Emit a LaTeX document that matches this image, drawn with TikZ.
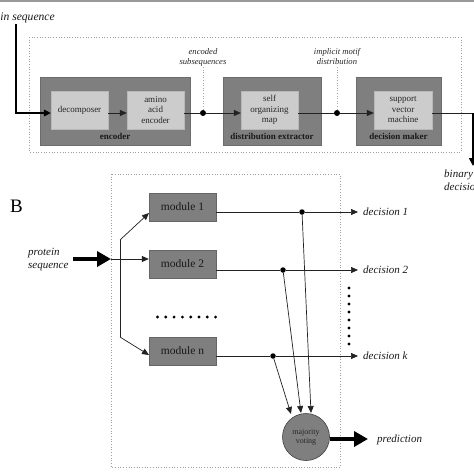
\documentclass[tikz,border=0pt]{standalone}
\usepackage{fontspec}
\setmainfont{Liberation Serif}
\usetikzlibrary{arrows.meta,calc}
\definecolor{dk}{HTML}{7F7F7F}
\definecolor{lt}{HTML}{CCCCCC}
\definecolor{ln}{HTML}{222222}
\begin{document}
\begin{tikzpicture}[x=1pt,y=-1pt,
  dkbox/.style={fill=dk, draw=dk!85!black, line width=0.3pt, inner sep=0pt},
  ltbox/.style={fill=lt, draw=lt!90!black, line width=0.3pt, inner sep=0pt, align=center, font=\fontsize{9}{10.5}\selectfont, text=black!85},
  dklab/.style={font=\fontsize{9}{10}\selectfont\bfseries, anchor=base, inner sep=0pt, text=black!90},
  smlab/.style={font=\fontsize{8.6}{10}\selectfont\itshape, align=center, inner sep=0pt, text=black!85},
  itlab/.style={font=\fontsize{11}{12.5}\selectfont\itshape, inner sep=0pt, text=black!90},
  modbox/.style={fill=dk, draw=dk!80!black, line width=0.4pt, minimum width=67pt, minimum height=28pt, inner sep=0pt, font=\fontsize{11.5}{12}\selectfont, text=black!90},
  conn/.style={draw=ln, line width=0.7pt},
  arr/.style={conn, -{Triangle[length=7pt,width=6pt]}},
  bigarr/.style={draw=black, line width=3.6pt, -{Triangle[length=14pt,width=15pt]}},
  frame/.style={draw=gray!75, dotted, line width=0.7pt},
  jdot/.style={circle, fill=black, inner sep=0pt, minimum size=6pt},
  smdot/.style={circle, fill=black, inner sep=0pt, minimum size=3.2pt}
]
\useasboundingbox (0,0) rectangle (474,474);
\clip (0,0) rectangle (474,474);
\fill[white] (0,0) rectangle (474,474);
\draw[gray!80, line width=2.2pt] (0,1) -- (474,1);

% ---------------- Panel A ----------------
\draw[frame] (29,37) rectangle (461,152);
\node[dkbox, minimum width=150pt, minimum height=68pt] (enc) at (115,111) {};
\node[dkbox, minimum width=98pt, minimum height=68pt] (dex) at (272,111) {};
\node[dkbox, minimum width=85pt, minimum height=68pt] (dm) at (398.5,111) {};
\node[dklab] (encl) at (115,139) {encoder};
\node[dklab] (dexl) at (272,139) {distribution extractor};
\node[dklab] (dml) at (398.5,139) {decision maker};
\node[ltbox, minimum width=57pt, minimum height=38pt] (dec) at (79.5,110) {decomposer};
\node[ltbox, minimum width=57pt, minimum height=38pt] (ami) at (155.5,110) {amino\\acid\\encoder};
\node[ltbox, minimum width=57pt, minimum height=38pt] (som) at (269.5,110) {self\\organizing\\map};
\node[ltbox, minimum width=58pt, minimum height=38pt] (svm) at (403,110) {support\\vector\\machine};
\coordinate (ly) at (0,113);

\node[itlab, font=\fontsize{11.6}{12.5}\selectfont\itshape, anchor=base east] (psA) at (55,20) {protein sequence};
\coordinate (psAtop) at (16,24);
\coordinate (psAc) at (16,113);
\draw[draw=black, line width=1.4pt, -{Triangle[length=7pt,width=6.5pt]}] (psAtop) -- (psAc) -- (dec.west |- ly);
\draw[arr] (dec.east |- ly) -- (ami.west |- ly);
\node[jdot] (d1) at (203,113) {};
\node[jdot] (d2) at (337,113) {};
\draw[arr] (ami.east |- ly) -- (d1) -- (som.west |- ly);
\draw[arr] (som.east |- ly) -- (d2) -- (svm.west |- ly);
\node[smlab, anchor=base] (encs1) at (203,54) {encoded};
\node[smlab, anchor=base] (encs2) at (203,64) {subsequences};
\node[smlab, anchor=base] (imd1) at (337,54) {implicit motif};
\node[smlab, anchor=base] (imd2) at (337,64) {distribution};
\draw[gray!70, dotted, line width=0.6pt] (203,67) -- (d1);
\draw[gray!70, dotted, line width=0.6pt] (337,67) -- (d2);
\coordinate (bc) at (473,113);
\coordinate (bt) at (473,166);
\draw[conn] (svm.east |- ly) -- (bc);
\draw[draw=black, line width=1.6pt, -{Triangle[length=8pt,width=8pt]}] (bc) -- (bt);
\node[itlab, anchor=base west] (bd1) at (444,177) {binary};
\node[itlab, anchor=base west] (bd2) at (444,190) {decision};

% ---------------- Panel B ----------------
\node[font=\fontsize{19}{20}\selectfont, anchor=base west, inner sep=0pt] (B) at (10,212) {B};
\draw[frame] (111,174) rectangle (340,467);
\node[modbox] (m1) at (182.5,207) {module 1};
\node[modbox] (m2) at (182.5,264) {module 2};
\node[modbox] (mn) at (182.5,351) {module n};
\foreach \i in {0,...,7} \node[smdot] (hd\i) at (157.5+8.3*\i,317) {};
\foreach \i in {0,...,7} \node[smdot] (vd\i) at (349,288+8*\i) {};

\node[itlab, anchor=base west] (pB1) at (28,255) {protein};
\node[itlab, anchor=base west] (pB2) at (28,268) {sequence};
\coordinate (pBs) at (73,259);
\coordinate (pBe) at (111,259);
\draw[bigarr] (pBs) -- (pBe);
\coordinate (ly2) at (0,259);
\draw[arr] (pBe) -- (m2.west |- ly2);
\coordinate (bt1) at (120,240);
\coordinate (bb1) at (120,337);
\draw[conn] (bt1) -- (bb1);
\draw[arr] (bt1) -- (149,213);
\draw[arr] (bb1) -- (149,355);

\coordinate (e1) at (358,212);
\coordinate (e2) at (358,270);
\coordinate (ek) at (358,356);
\node[jdot, minimum size=5.5pt] (j1) at (302,212) {};
\node[jdot, minimum size=5.5pt] (j2) at (283,270) {};
\node[jdot, minimum size=5.5pt] (jk) at (273,356) {};
\draw[arr] (m1.east |- e1) -- (j1) -- (e1);
\draw[arr] (m2.east |- e2) -- (j2) -- (e2);
\draw[arr] (mn.east |- ek) -- (jk) -- (ek);
\node[itlab, anchor=base west] (dc1) at (363,215) {decision 1};
\node[itlab, anchor=base west] (dc2) at (363,273) {decision 2};
\node[itlab, anchor=base west] (dck) at (363,359) {decision k};

\node[circle, fill=dk, draw=black!75, line width=0.6pt, minimum size=47pt, inner sep=0pt, align=center, font=\fontsize{8}{9.5}\selectfont, text=black!85] (mv) at (306,437) {majority\\voting};
\coordinate (t1) at (311,413);
\coordinate (t2) at (301,413);
\coordinate (tk) at (291,414);
\draw[arr] (j1) -- (t1);
\draw[arr] (j2) -- (t2);
\draw[arr] (jk) -- (tk);
\coordinate (pe) at (368,439);
\draw[bigarr] (mv.east |- pe) -- (pe);
\node[itlab, anchor=base west] (pred) at (377,442) {prediction};
\end{tikzpicture}
\end{document}
